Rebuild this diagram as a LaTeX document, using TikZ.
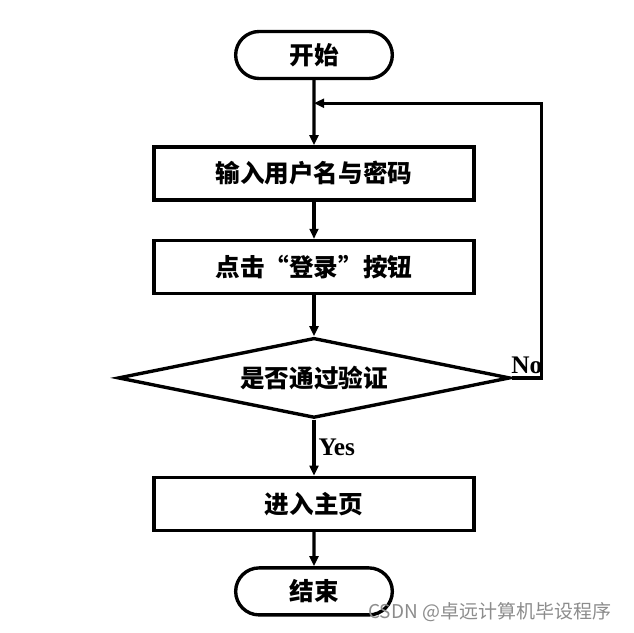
\documentclass[tikz,border=0pt]{standalone}
\usepackage{fontspec}
\setmainfont{Liberation Serif}
\newfontfamily\cjkfont{Noto Sans CJK SC}
\newcommand\boxfont{\cjkfont\bfseries\fontsize{17.5pt}{21pt}\selectfont}
\newcommand\lblfont{\bfseries\fontsize{18pt}{21pt}\selectfont}
\newcommand\wmfont{\cjkfont\fontsize{13.5pt}{16pt}\selectfont}
\usepackage{tikz}
\usetikzlibrary{positioning,%
  shapes.geometric,%
  shapes.misc,%
  arrows.meta
}

\begin{document}
\begin{tikzpicture}
                    [x=0.025cm, y=-0.025cm,
                    term/.style={rounded rectangle,
                        minimum width=4.15cm, minimum height=1.175cm,
                        draw, font=\boxfont},
                    proc/.style={rectangle,
                        minimum width=8cm, minimum height=1.33cm,
                        draw, font=\boxfont},
                    cond/.style={diamond,
                        aspect=4.9,
                        minimum width=9.8cm, minimum height=2cm,
                        inner sep=0pt, draw, font=\boxfont},
                    lbl/.style={font=\lblfont, inner sep=2pt},
                    line width=2.4pt,
                    >={Triangle[length=0.25cm,width=0.22cm]}]

                    \useasboundingbox (0,0) rectangle (634,633);

                    \node[term] (start) at (314,55)
                        {开始};
                    \node[proc, below=1.625cm of start]
                        (input) {输入用户名与密码};
                    \node[proc, below=0.925cm of input]
                        (click) {点击“登录”按钮};
                    \node[cond, below=1.02cm of click]
                        (check) {是否通过验证};
                    \node[proc, below=1.4cm of check]
                        (home) {进入主页};
                    \node[term, below=0.85cm of home]
                        (stop) {结束};
                    \coordinate[below=0.575cm of start] (back);

                    \path[->]
                        (start) edge (input)
                        (input) edge (click)
                        (click) edge (check);

                    \path[->]
                        (check) edge
                            node[lbl, right] {Yes}
                                (home)
                        (home)  edge (stop);
                    \draw[->]
                        (check.east) --
                            node[lbl, above] {No}
                                ++ (0.75cm,0) |- (back);

                    \node[text=black!45, font=\wmfont, anchor=west]
                        (mark) at (362,612) {CSDN @卓远计算机毕设程序};
                \end{tikzpicture}
\end{document}
